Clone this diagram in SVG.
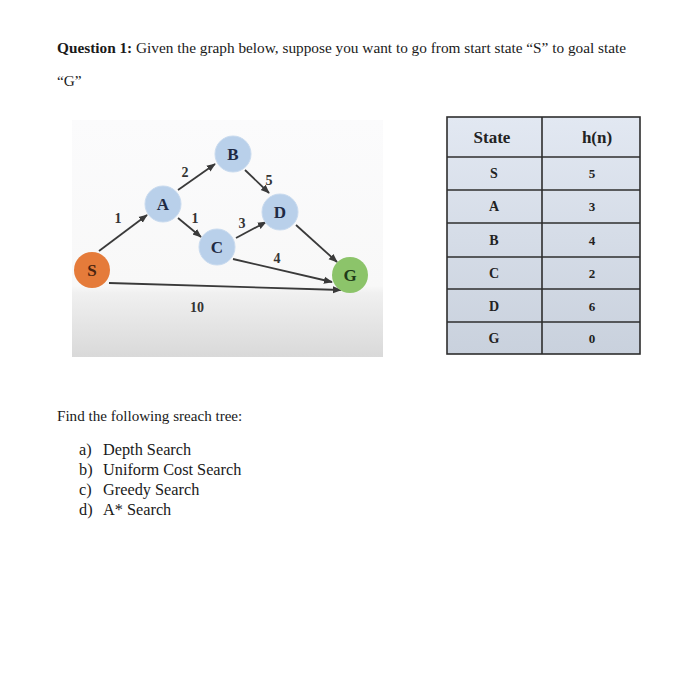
<svg xmlns="http://www.w3.org/2000/svg" width="700" height="690" viewBox="0 0 700 690">
<style>
.q{font-family:"Liberation Serif","Times New Roman",serif;font-size:15.3px;fill:#1a1a1a}
.f{font-family:"Liberation Serif","Times New Roman",serif;font-size:15.1px;fill:#1a1a1a}
.l{font-family:"Liberation Serif","Times New Roman",serif;font-size:16.3px;fill:#1a1a1a}
.nl{font-family:"Liberation Serif","Times New Roman",serif;font-size:17px;font-weight:bold;fill:#1f2a44;text-anchor:middle;dominant-baseline:central}
.w{font-family:"Liberation Serif","Times New Roman",serif;font-size:14px;font-weight:bold;fill:#333;text-anchor:middle;dominant-baseline:central}
.node{fill:#b9d0ea;stroke:#c9dbef;stroke-width:1}
.edge{stroke:#3a3a3a;stroke-width:1.8;fill:none;marker-end:url(#ah)}
.th{font-family:"Liberation Serif","Times New Roman",serif;font-size:17px;font-weight:bold;fill:#222;text-anchor:middle;dominant-baseline:central}
.tl{font-family:"Liberation Serif","Times New Roman",serif;font-size:14px;font-weight:bold;fill:#222;text-anchor:middle;dominant-baseline:central}
.td{font-family:"Liberation Serif","Times New Roman",serif;font-size:13px;font-weight:bold;fill:#222;text-anchor:middle;dominant-baseline:central}
.grid{stroke:#2e2e2e;stroke-width:1.6;fill:none}
</style>
<defs>
<marker id="ah" viewBox="0 0 10 10" refX="9" refY="5" markerWidth="5" markerHeight="5" orient="auto">
<path d="M0,1 L10,5 L0,9 z" fill="#3a3a3a"/>
</marker>
<linearGradient id="bg" x1="0" y1="0" x2="0" y2="1">
<stop offset="0" stop-color="#fbfbfc"/>
<stop offset="0.7" stop-color="#f8f8f8"/>
<stop offset="0.73" stop-color="#f0f0f0"/>
<stop offset="1" stop-color="#d9d9d9"/>
</linearGradient>
<linearGradient id="tb" x1="0" y1="0" x2="0" y2="1">
<stop offset="0" stop-color="#e2e8f2"/>
<stop offset="1" stop-color="#c9d1dd"/>
</linearGradient>
</defs>

<rect width="700" height="690" fill="#ffffff"/>

<text class="q" x="57" y="53"><tspan font-weight="bold">Question 1:</tspan> Given the graph below, suppose you want to go from start state “S” to goal state</text>
<text class="q" x="57" y="86">“G”</text>

<rect x="72" y="120" width="311" height="237" fill="url(#bg)"/>

<g id="connectors">
<line class="edge" x1="99" y1="251" x2="147" y2="215"/>
<line class="edge" x1="178" y1="190" x2="215" y2="164"/>
<line class="edge" x1="178" y1="218" x2="201" y2="237"/>
<line class="edge" x1="245" y1="170" x2="269" y2="193"/>
<line class="edge" x1="236" y1="238" x2="266" y2="222"/>
<line class="edge" x1="233" y1="259" x2="332" y2="282"/>
<line class="edge" x1="296" y1="225" x2="337" y2="262"/>
<line class="edge" x1="109" y1="283" x2="341" y2="290"/>
<text class="w" x="118" y="218">1</text>
<text class="w" x="185" y="172">2</text>
<text class="w" x="195" y="218">1</text>
<text class="w" x="269" y="180">5</text>
<text class="w" x="242" y="223">3</text>
<text class="w" x="277" y="258">4</text>
<text class="w" x="197" y="307">10</text>
</g>

<g id="node-S"><circle cx="92" cy="270" r="18" fill="#e57b3a"/><text class="nl" x="92" y="270" style="fill:#4a2410">S</text></g>
<g id="node-A"><circle class="node" cx="163" cy="204" r="18"/><text class="nl" x="163" y="204">A</text></g>
<g id="node-B"><circle class="node" cx="233" cy="154" r="18"/><text class="nl" x="233" y="154">B</text></g>
<g id="node-C"><circle class="node" cx="217" cy="247" r="18"/><text class="nl" x="217" y="247">C</text></g>
<g id="node-D"><circle class="node" cx="280" cy="212" r="18"/><text class="nl" x="280" y="212">D</text></g>
<g id="node-G"><circle cx="350" cy="275" r="18" fill="#8cc46a"/><text class="nl" x="350" y="275" style="fill:#1e3a18">G</text></g>

<g id="table">
<rect x="447" y="117" width="193" height="237" fill="url(#tb)"/>
<rect class="grid" x="447" y="117" width="193" height="237"/>
<line class="grid" x1="542" y1="117" x2="542" y2="354"/>
<line class="grid" x1="447" y1="157" x2="640" y2="157"/>
<line class="grid" x1="447" y1="190" x2="640" y2="190"/>
<line class="grid" x1="447" y1="223" x2="640" y2="223"/>
<line class="grid" x1="447" y1="257" x2="640" y2="257"/>
<line class="grid" x1="447" y1="289" x2="640" y2="289"/>
<line class="grid" x1="447" y1="322" x2="640" y2="322"/>
<text class="th" x="492" y="137">State</text>
<text class="th" x="597" y="137">h(n)</text>
<text class="tl" x="494" y="173">S</text><text class="td" x="592" y="173">5</text>
<text class="tl" x="494" y="206">A</text><text class="td" x="592" y="206">3</text>
<text class="tl" x="494" y="240">B</text><text class="td" x="592" y="240">4</text>
<text class="tl" x="494" y="273">C</text><text class="td" x="592" y="273">2</text>
<text class="tl" x="494" y="306">D</text><text class="td" x="592" y="306">6</text>
<text class="tl" x="494" y="338">G</text><text class="td" x="592" y="338">0</text>
</g>

<text class="f" x="57" y="421">Find the following sreach tree:</text>
<text class="l" x="79" y="455">a)</text><text class="l" x="103" y="455">Depth Search</text>
<text class="l" x="79" y="475">b)</text><text class="l" x="103" y="475">Uniform Cost Search</text>
<text class="l" x="79" y="495">c)</text><text class="l" x="103" y="495">Greedy Search</text>
<text class="l" x="79" y="515">d)</text><text class="l" x="103" y="515">A* Search</text>
</svg>
